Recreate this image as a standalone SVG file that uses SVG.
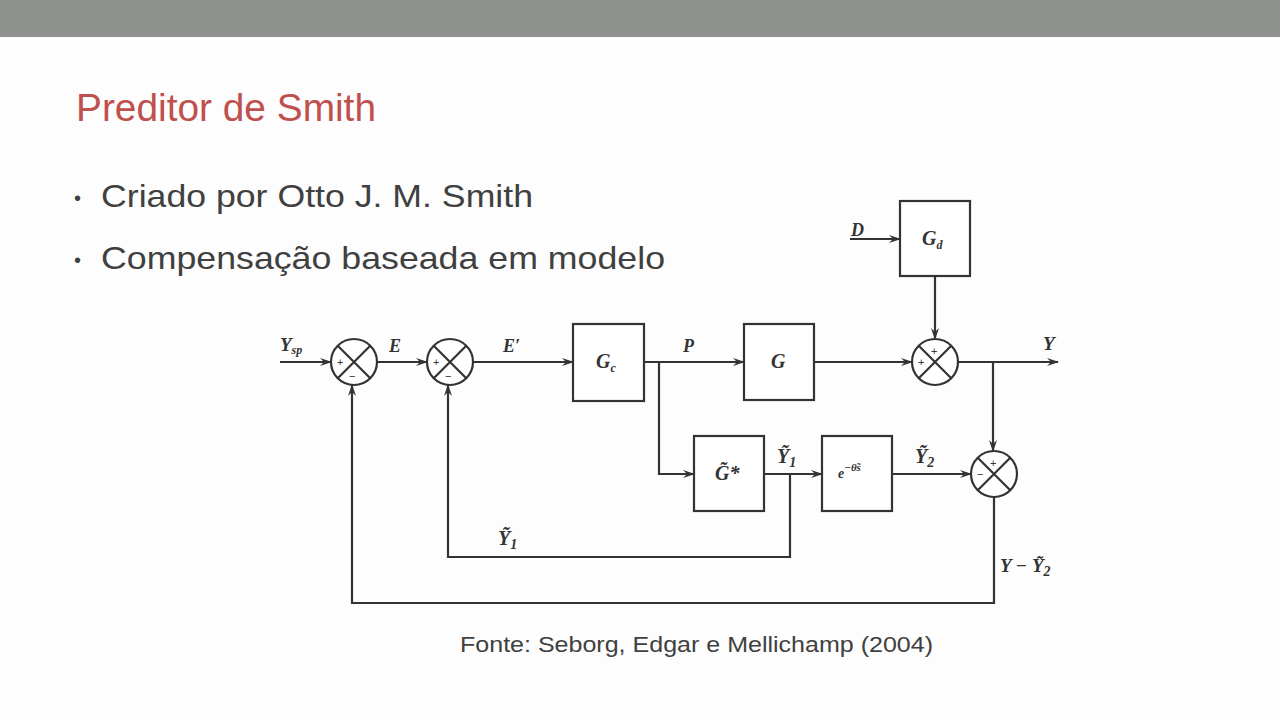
<svg xmlns="http://www.w3.org/2000/svg" width="1280" height="720" viewBox="0 0 1280 720">
<defs>
<marker id="ah" markerWidth="12" markerHeight="8" refX="11" refY="4" orient="auto" markerUnits="userSpaceOnUse"><path d="M0,0 L12,4 L0,8 L4,4 Z" fill="#333"/></marker>
<style>
.b{fill:#fff;stroke:#333;stroke-width:2.2}
.l{fill:none;stroke:#333;stroke-width:2.2}
.m{font-family:"Liberation Serif",serif;font-style:italic;font-weight:bold;fill:#333}
.s{font-family:"Liberation Sans",sans-serif;fill:#333;font-size:11px}
.t{font-family:"Liberation Sans",Arial,sans-serif;fill:#404040}
</style>
</defs>
<rect width="1280" height="720" fill="#fdfdfd"/>
<rect width="1280" height="37" fill="#8e918e"/>
<text x="76" y="121" font-family="Liberation Sans, sans-serif" font-size="38" fill="#c0504d" textLength="300" lengthAdjust="spacingAndGlyphs">Preditor de Smith</text>
<text class="t" x="74" y="205" font-size="20" fill="#999">•</text>
<text class="t" x="101" y="207" font-size="32" textLength="432" lengthAdjust="spacingAndGlyphs">Criado por Otto J. M. Smith</text>
<text class="t" x="74" y="267" font-size="20" fill="#999">•</text>
<text class="t" x="101" y="269" font-size="32" textLength="564" lengthAdjust="spacingAndGlyphs">Compensação baseada em modelo</text>
<text class="t" x="460" y="652" font-size="22" textLength="473" lengthAdjust="spacingAndGlyphs">Fonte: Seborg, Edgar e Mellichamp (2004)</text>
<g id="connectors" class="l">
<path d="M280,362 H331" marker-end="url(#ah)"/>
<path d="M377,362 H427" marker-end="url(#ah)"/>
<path d="M473,362 H573" marker-end="url(#ah)"/>
<path d="M644,362 H744" marker-end="url(#ah)"/>
<path d="M814,362 H912" marker-end="url(#ah)"/>
<path d="M958,362 H1058" marker-end="url(#ah)"/>
<path d="M659,362 V474 H694" marker-end="url(#ah)"/>
<path d="M764,474 H822" marker-end="url(#ah)"/>
<path d="M790,474 V557 H448 V385" marker-end="url(#ah)"/>
<path d="M892,474 H971" marker-end="url(#ah)"/>
<path d="M993,362 V451" marker-end="url(#ah)"/>
<path d="M994,497 V603 H352 V385" marker-end="url(#ah)"/>
<path d="M850,239 H900" marker-end="url(#ah)"/>
<path d="M935,276 V339" marker-end="url(#ah)"/>
</g>
<g id="sum1"><circle class="b" cx="354" cy="362" r="23"/><path class="l" d="M338,346 L370,378 M370,346 L338,378"/><text class="s" x="337" y="366">+</text><text class="s" x="349" y="380">−</text></g>
<g id="sum2"><circle class="b" cx="450" cy="362" r="23"/><path class="l" d="M434,346 L466,378 M466,346 L434,378"/><text class="s" x="433" y="366">+</text><text class="s" x="445" y="380">−</text></g>
<g id="sum3"><circle class="b" cx="935" cy="362" r="23"/><path class="l" d="M919,346 L951,378 M951,346 L919,378"/><text class="s" x="931" y="355">+</text><text class="s" x="918" y="366">+</text></g>
<g id="sum4"><circle class="b" cx="994" cy="474" r="23"/><path class="l" d="M978,458 L1010,490 M1010,458 L978,490"/><text class="s" x="990" y="467">+</text><text class="s" x="977" y="478">−</text></g>
<g id="Gc"><rect class="b" x="573" y="324" width="71" height="77"/><text class="m" x="596" y="368" font-size="20">G<tspan font-size="12" dy="4">c</tspan></text></g>
<g id="G"><rect class="b" x="744" y="324" width="70" height="76"/><text class="m" x="771" y="368" font-size="20">G</text></g>
<g id="Gd"><rect class="b" x="900" y="201" width="70" height="75"/><text class="m" x="922" y="245" font-size="20">G<tspan font-size="12" dy="4">d</tspan></text></g>
<g id="Gstar"><rect class="b" x="694" y="436" width="70" height="75"/><text class="m" x="715" y="480" font-size="20">G̃*</text></g>
<g id="delay"><rect class="b" x="822" y="436" width="70" height="75"/><text class="m" x="838" y="478" font-size="14">e<tspan font-size="11" dy="-7">−θ̃s</tspan></text></g>
<g id="labels" class="m">
<text x="280" y="351" font-size="19">Y<tspan font-size="12" dy="3">sp</tspan></text>
<text x="389" y="352" font-size="18">E</text>
<text x="503" y="352" font-size="18">E′</text>
<text x="683" y="352" font-size="18">P</text>
<text x="1043" y="350" font-size="19">Y</text>
<text x="851" y="236" font-size="18">D</text>
<text x="777" y="463" font-size="20">Ỹ<tspan font-size="14" dy="4">1</tspan></text>
<text x="915" y="463" font-size="20">Ỹ<tspan font-size="14" dy="4">2</tspan></text>
<text x="498" y="545" font-size="20">Ỹ<tspan font-size="14" dy="4">1</tspan></text>
<text x="1000" y="572" font-size="19">Y − Ỹ<tspan font-size="14" dy="4">2</tspan></text>
</g>
</svg>
